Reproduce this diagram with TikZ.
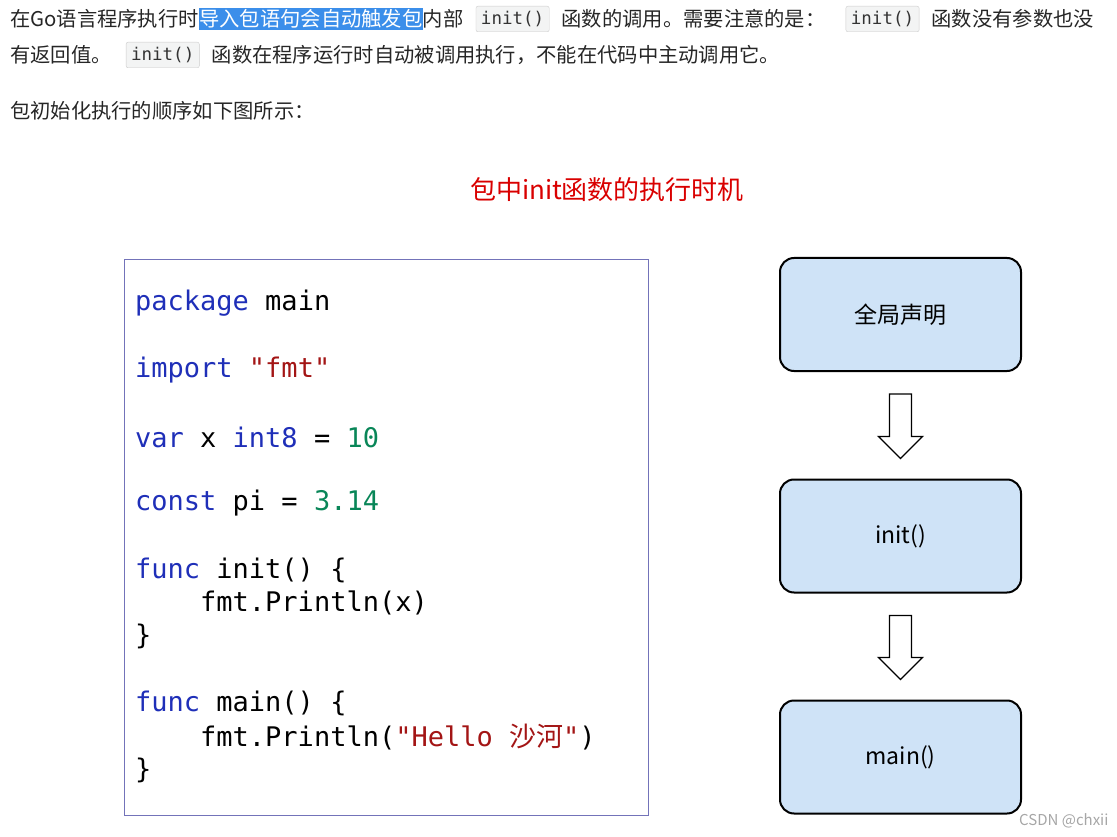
\documentclass[tikz,border=0pt]{standalone}
\usepackage{fontspec}
\setmainfont{Noto Sans CJK SC}
\setmonofont{DejaVu Sans Mono}
\newfontfamily\cjk{Noto Sans CJK SC}
\definecolor{kw}{HTML}{1F2FB8}
\definecolor{str}{HTML}{A31515}
\definecolor{num}{HTML}{098658}
\definecolor{boxfill}{HTML}{CFE3F7}
\definecolor{hl}{HTML}{3B8EEA}
\definecolor{codebg}{HTML}{F3F4F4}
\begin{document}
\begin{tikzpicture}[x=1pt,y=1pt,
  txt/.style={anchor=west,inner sep=0,font=\fontsize{20.3}{22}\selectfont,text=black!85},
  ic/.style={draw=black!20,fill=codebg,rounded corners=2,inner sep=5,font=\ttfamily\fontsize{17.5}{19}\selectfont,text=black!80},
  code/.style={anchor=west,inner sep=0,font=\ttfamily\fontsize{27}{30}\selectfont},
  stage/.style={draw,line width=2pt,rounded corners=14,fill=boxfill,minimum width=241,minimum height=113,font=\fontsize{23}{26}\selectfont},
  blk/.style={draw,line width=1.3pt,fill=white}]
\useasboundingbox (0,0) rectangle (1117,-837);
% top text
\node[txt] (t1) at (10,-19) {在Go语言程序执行时};
\node[txt,fill=hl,text=white,inner ysep=2] (t2) at (t1.east) {导入包语句会自动触发包};
\node[txt] (t3) at (t2.east) {内部};
\node[ic,anchor=west] (c1) at ([xshift=12]t3.east) {init()};
\node[txt] (t4) at ([xshift=12]c1.east) {函数的调用。需要注意的是：};
\node[ic,anchor=west] (c2) at ([xshift=20]t4.east) {init()};
\node[txt] (t5) at ([xshift=12]c2.east) {函数没有参数也没};
\node[txt] (t6) at (10,-55) {有返回值。};
\node[ic,anchor=west] (c3) at ([xshift=14]t6.east) {init()};
\node[txt] (t7) at ([xshift=12]c3.east) {函数在程序运行时自动被调用执行，不能在代码中主动调用它。};
\node[txt] (t8) at (10,-111) {包初始化执行的顺序如下图所示：};
\node[text=red!85!black,font=\fontsize{26}{30}\selectfont] (title) at (607,-190) {包中init函数的执行时机};
% code box
\node[draw=black!50!blue!55,line width=1pt,minimum width=524,minimum height=556,anchor=north west] (cb) at (124,-259) {};
\node[code] (l1) at (135,-303) {\textcolor{kw}{package} main};
\node[code] (l2) at (135,-370) {\textcolor{kw}{import} \textcolor{str}{"fmt"}};
\node[code] (l3) at (135,-437) {\textcolor{kw}{var} x \textcolor{kw}{int8} = \textcolor{num}{10}};
\node[code] (l4) at (135,-503) {\textcolor{kw}{const} pi = \textcolor{num}{3.14}};
\node[code] (l5) at (135,-570) {\textcolor{kw}{func} init() \{};
\node[code] (l6) at (135,-603) {\ \ \ \ fmt.Println(x)};
\node[code] (l7) at (135,-636) {\}};
\node[code] (l8) at (135,-703) {\textcolor{kw}{func} main() \{};
\node[code] (l9) at (135,-737) {\ \ \ \ fmt.Println(\textcolor{str}{"Hello {\cjk 沙河}"})};
\node[code] (l10) at (135,-770) {\}};
% stages
\node[stage] (s1) at (900.5,-314.5) {全局声明};
\node[stage] (s2) at (900.5,-536) {init()};
\node[stage] (s3) at (900.5,-757) {main()};
\foreach \a/\b in {s1/s2,s2/s3}{
  \path ([yshift=-22]\a.south) coordinate (p) ([yshift=20]\b.north) coordinate (q);
  \draw[blk] ([xshift=-11]p) -- ([xshift=11]p) -- ([xshift=11,yshift=22]q) -- ([xshift=22,yshift=22]q) -- (q) -- ([xshift=-22,yshift=22]q) -- ([xshift=-11,yshift=22]q) -- cycle;
}
\node[text=black!35,font=\fontsize{15}{17}\selectfont,anchor=east] (wm) at (1112,-821) {CSDN @chxii};
\end{tikzpicture}
\end{document}
